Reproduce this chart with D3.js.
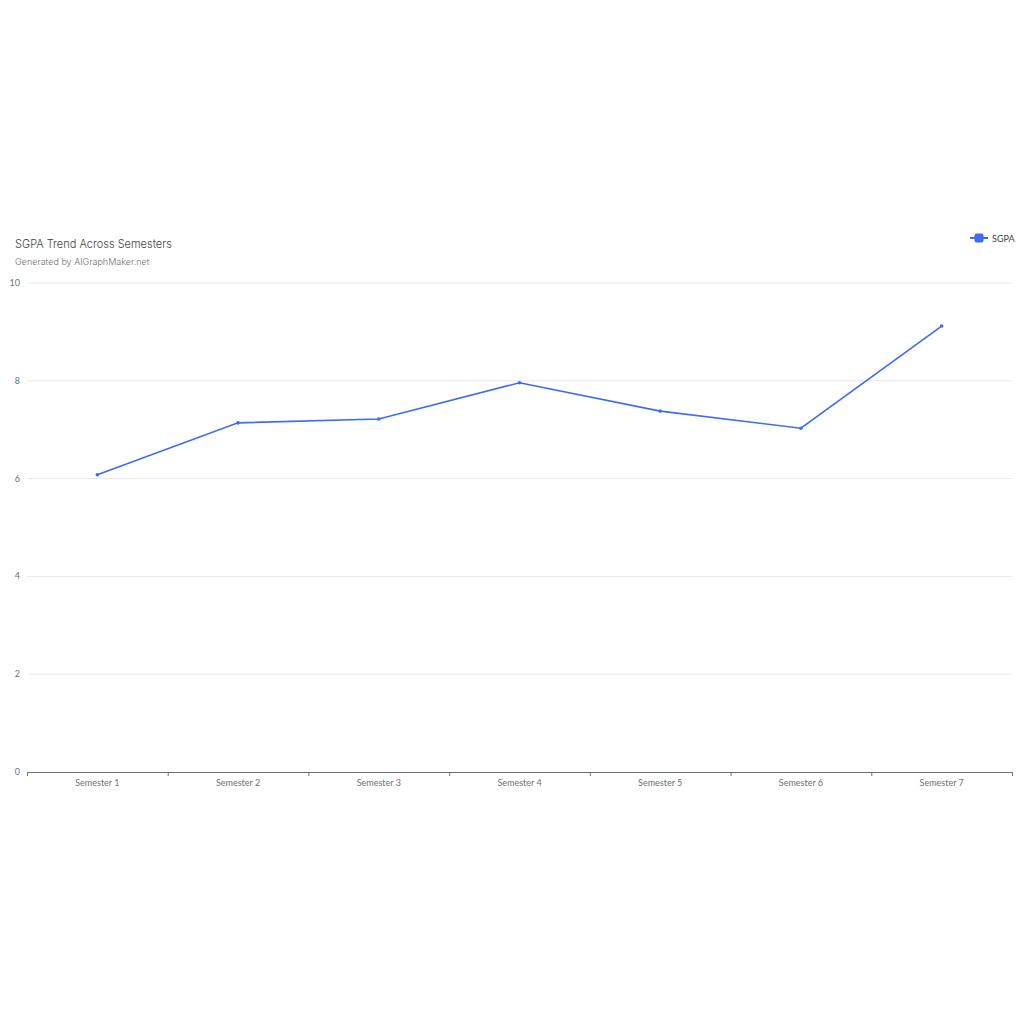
<!DOCTYPE html>
<html>
<head>
<meta charset="utf-8">
<script src="https://cdn.jsdelivr.net/npm/d3@7"></script>
<style>
  body { margin: 0; background: #fff; }
  text { font-family: Lato, "Noto Sans", sans-serif; }
</style>
</head>
<body>
<div id="chart"></div>
<script>
// data
var semesters = ['Semester 1', 'Semester 2', 'Semester 3', 'Semester 4', 'Semester 5', 'Semester 6', 'Semester 7'];
var sgpa = [6.08, 7.14, 7.22, 7.96, 7.38, 7.03, 9.12];
var yTicks = [0, 2, 4, 6, 8, 10];

var width = 1024, height = 1024;
var margin = {top: 283, right: 12, bottom: 252, left: 27};
var plotW = width - margin.left - margin.right;
var plotH = height - margin.top - margin.bottom;
var lineColor = '#3d6cf2';

var svg = d3.select('#chart')
    .append('svg')
    .attr('width', width)
    .attr('height', height)

var x = d3.scaleBand()
    .domain(semesters)
    .range([margin.left, margin.left + plotW])

var y = d3.scaleLinear()
    .domain([0, 10])
    .range([margin.top + plotH, margin.top])

// title
svg.append('text')
    .text('SGPA Trend Across Semesters')
    .attr('x', 15)
    .attr('y', 248)
    .attr('font-size', 11)
    .attr('fill', '#444')
    .style('font-family', 'Inter, "Open Sans", sans-serif')
    .style('font-weight', 300)

svg.append('text')
    .text('Generated by AIGraphMaker.net')
    .attr('x', 15)
    .attr('y', 265)
    .attr('font-size', 9)
    .attr('fill', '#6e7079')
    .style('font-family', 'Inter, "Open Sans", sans-serif')
    .style('font-weight', 300)

// gridlines
svg.append('g')
    .selectAll('line')
    .data(yTicks.filter(function (d) { return d > 0; }))
    .enter()
    .append('line')
    .attr('x1', margin.left)
    .attr('x2', margin.left + plotW)
    .attr('y1', function (d) { return y(d); })
    .attr('y2', function (d) { return y(d); })
    .attr('stroke', '#e6e8ee')
    .attr('stroke-width', 1)

// y labels
svg.append('g')
    .selectAll('text')
    .data(yTicks)
    .enter()
    .append('text')
    .text(function (d) { return d; })
    .attr('x', 20)
    .attr('y', function (d) { return y(d) + 3; })
    .attr('text-anchor', 'end')
    .attr('font-size', 9)
    .attr('fill', '#6e7079')

// x axis
var xAxis = d3.axisBottom(x).tickSize(0).tickPadding(8)
var gx = svg.append('g')
    .attr('transform', 'translate(0,' + (margin.top + plotH) + ')')
    .call(xAxis)
gx.select('.domain').attr('stroke', '#6e7079')
gx.selectAll('text').attr('font-size', 9).attr('fill', '#6e7079')
    .style('font-family', 'Lato, "Noto Sans", sans-serif')

// tick marks at band edges
var edges = semesters.map(function (d) { return x(d); }).concat([margin.left + plotW])
gx.selectAll('.edge')
    .data(edges)
    .enter()
    .append('line')
    .attr('class', 'edge')
    .attr('x1', function (d) { return d + 0.5; })
    .attr('x2', function (d) { return d + 0.5; })
    .attr('y1', 0)
    .attr('y2', 4)
    .attr('stroke', '#6e7079')

// line
var line = d3.line()
    .x(function (d, i) { return x(semesters[i]) + x.bandwidth() / 2; })
    .y(function (d) { return y(d); })

svg.append('path')
    .datum(sgpa)
    .attr('d', line)
    .attr('fill', 'none')
    .attr('stroke', lineColor)
    .attr('stroke-width', 1.6)

svg.append('g')
    .selectAll('circle')
    .data(sgpa)
    .enter()
    .append('circle')
    .attr('cx', function (d, i) { return x(semesters[i]) + x.bandwidth() / 2; })
    .attr('cy', function (d) { return y(d); })
    .attr('r', 1.8)
    .attr('fill', lineColor)

// legend
var legend = svg.append('g').attr('transform', 'translate(970,238)')
legend.append('line')
    .attr('x1', 0).attr('x2', 18)
    .attr('y1', 0).attr('y2', 0)
    .attr('stroke', lineColor)
    .attr('stroke-width', 2)
legend.append('rect')
    .attr('x', 4.5).attr('y', -4.5)
    .attr('width', 9).attr('height', 9)
    .attr('rx', 2)
    .attr('fill', lineColor)
legend.append('text')
    .text('SGPA')
    .attr('x', 22)
    .attr('y', 3.5)
    .attr('font-size', 9)
    .attr('fill', '#444')
</script>
</body>
</html>
